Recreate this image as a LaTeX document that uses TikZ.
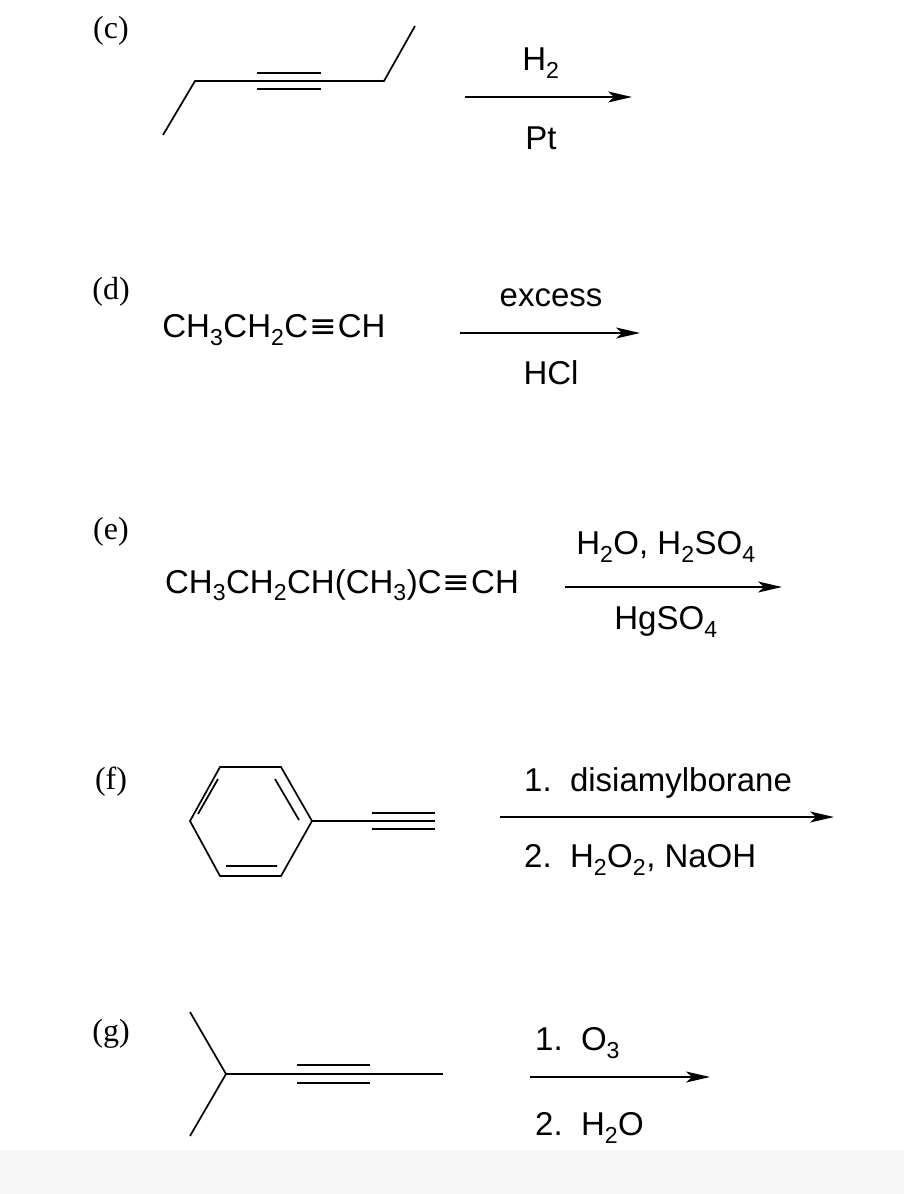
\documentclass[tikz,border=0pt]{standalone}
\usepackage{fontspec}
\setmainfont{Liberation Sans}
\newfontfamily\lbl{Liberation Serif}
\newfontfamily\djvfont{DejaVu Sans}
\usetikzlibrary{arrows.meta}
\newcommand{\tb}{{\djvfont\hspace{1pt}≡\hspace{1pt}}}
\begin{document}
\begin{tikzpicture}[x=1pt,y=-1pt,
  bond/.style={line width=1.7pt},
  rxn/.style={line width=1.5pt,-{Stealth[length=24pt,width=11pt,inset=6pt]}},
  txt/.style={font=\fontsize{33}{36}\selectfont,inner sep=0pt},
  lab/.style={font=\lbl\fontsize{32}{36}\selectfont,inner sep=0pt}]
\useasboundingbox (0,0) rectangle (904,1194);
\fill[gray!6] (0,1150) rectangle (904,1194);
% labels
\node[lab] (lc) at (111,31) {(c)};
\node[lab] (ld) at (111,292) {(d)};
\node[lab] (le) at (111,532) {(e)};
\node[lab] (lf) at (111,782) {(f)};
\node[lab] (lg) at (111,1034) {(g)};
% (c)
\draw[bond] (163,135) -- (195,81) -- (384,81) -- (415,26);
\draw[bond] (257,73) -- (321,73) (257,89) -- (321,89);
\coordinate (c1) at (465,97); \coordinate (c2) at (632,97);
\draw[rxn] (c1) -- (c2);
\node[txt] (ch) at (541,63) {H\textsubscript{2}};
\node[txt] (cp) at (541,138) {Pt};
% (d)
\node[txt] (dm) at (274,330) {CH\textsubscript{3}CH\textsubscript{2}C\tb CH};
\coordinate (d1) at (460,333); \coordinate (d2) at (640,333);
\draw[rxn] (d1) -- (d2);
\node[txt] (de) at (551,298) {excess};
\node[txt] (dh) at (551,373) {HCl};
% (e)
\node[txt] (em) at (342,585) {CH\textsubscript{3}CH\textsubscript{2}CH(CH\textsubscript{3})C\tb CH};
\coordinate (e1) at (565,587); \coordinate (e2) at (782,587);
\draw[rxn] (e1) -- (e2);
\node[txt] (ea) at (666,547) {H\textsubscript{2}O, H\textsubscript{2}SO\textsubscript{4}};
\node[txt] (eb) at (666,622) {HgSO\textsubscript{4}};
% (f)
\draw[bond] (220,767) -- (281,767) -- (312,821) -- (281,876) -- (220,876) -- (190,821) -- cycle;
\draw[bond] (218,779) -- (198,814) (275,779) -- (299,820) (226,866) -- (277,866);
\draw[bond] (312,821) -- (435,821);
\draw[bond] (372,813) -- (435,813) (372,829) -- (435,829);
\coordinate (f1) at (500,817); \coordinate (f2) at (834,817);
\draw[rxn] (f1) -- (f2);
\node[txt,anchor=west] (fa) at (524,783) {1.\ \ disiamylborane};
\node[txt,anchor=west] (fb) at (524,860) {2.\ \ H\textsubscript{2}O\textsubscript{2}, NaOH};
% (g)
\draw[bond] (190,1012) -- (226,1074) -- (190,1136);
\draw[bond] (226,1074) -- (443,1074);
\draw[bond] (297,1065) -- (370,1065) (297,1083) -- (370,1083);
\coordinate (g1) at (530,1077); \coordinate (g2) at (710,1077);
\draw[rxn] (g1) -- (g2);
\node[txt,anchor=west] (ga) at (535,1043) {1.\ \ O\textsubscript{3}};
\node[txt,anchor=west] (gb) at (535,1128) {2.\ \ H\textsubscript{2}O};
\end{tikzpicture}
\end{document}
